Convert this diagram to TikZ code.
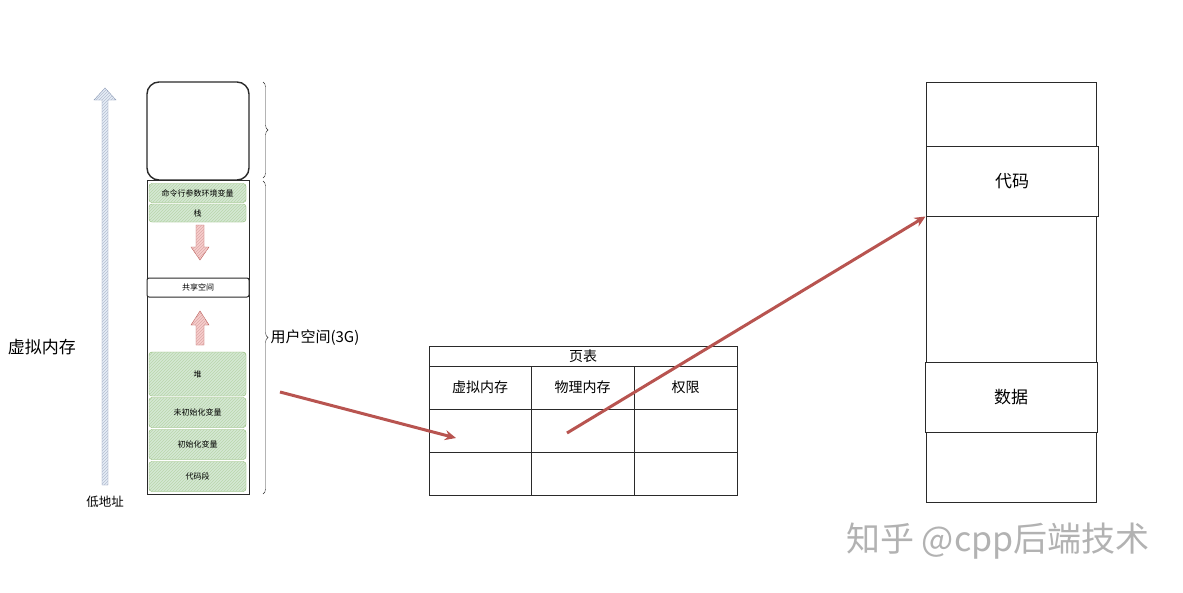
\documentclass[tikz,border=0pt]{standalone}
\usepackage{fontspec}
\setmainfont{Noto Sans CJK SC}
\usetikzlibrary{arrows.meta,patterns,decorations.pathreplacing}

\definecolor{segfill}{HTML}{D5E8D4}
\definecolor{segline}{HTML}{82B366}
\definecolor{growfill}{HTML}{F8CECC}
\definecolor{growline}{HTML}{B85450}
\definecolor{addrfill}{HTML}{E6EDF7}
\definecolor{addrline}{HTML}{8393B0}
\definecolor{frameline}{HTML}{2A2A2A}

\tikzset{
  seg/.style={draw=segline, fill=segfill, rounded corners=3pt,
    postaction={pattern=north east lines, pattern color=segline!55},
    minimum width=97pt, inner sep=0pt, font=\fontsize{8}{9}\selectfont},
  box/.style={draw=frameline, fill=white, inner sep=0pt, line width=1pt},
  cell/.style={draw=frameline, inner sep=0pt, minimum width=103pt, minimum height=43pt,
    line width=0.9pt, font=\fontsize{14}{16}\selectfont},
  phys/.style={draw=frameline, inner sep=0pt, minimum width=172pt, minimum height=70pt,
    line width=1pt, font=\fontsize{17}{19}\selectfont},
  growarrow/.style={draw=growline, fill=growfill,
    postaction={pattern=north east lines, pattern color=growline!50}},
  addr/.style={draw=addrline, fill=addrfill,
    postaction={pattern=north east lines, pattern color=addrline!60}},
  bracket/.style={draw=frameline, decorate, decoration={brace, amplitude=5pt}},
  map/.style={draw=growline, line width=3pt, -{Stealth[length=11pt, width=10pt]}}
}

\begin{document}
\begin{tikzpicture}[x=1pt, y=-1pt]
  \useasboundingbox (0,0) rectangle (1183,592);

  % address arrow
  \draw[addr] (102,485) -- (102,100) -- (94,100) -- (105,88) -- (116,100)
    -- (108,100) -- (108,485) -- cycle;
  \node[font=\fontsize{17}{19}\selectfont] (vmem) at (42,347) {虚拟内存};
  \node[font=\fontsize{12.5}{14}\selectfont] (low) at (105,502) {低地址};

  % virtual memory column
  \node[box, line width=1.4pt, rounded corners=12pt, minimum width=102pt, minimum height=98pt] (kernel) at (198,131) {};
  \node[box, minimum width=102pt, minimum height=314pt] (user) at (198,337) {};
  \node[seg, minimum height=19pt] (args) at (197.5,193) {命令行参数环境变量};
  \node[seg, minimum height=18pt] (stack) at (197.5,213) {栈};
  \node[box, rounded corners=2pt, minimum width=102pt, minimum height=19pt,
    font=\fontsize{8}{9}\selectfont] (shared) at (198,287.5) {共享空间};
  \node[seg, minimum height=44pt] (heap) at (197.5,374) {堆};
  \node[seg, minimum height=30pt] (bss) at (197.5,412.5) {未初始化变量};
  \node[seg, minimum height=30pt] (data) at (197.5,444.5) {初始化变量};
  \node[seg, minimum height=30pt] (text) at (197.5,476.5) {代码段};

  % growth arrows
  \draw[growarrow] (196,225) -- (196,247) -- (191,247) -- (200,260) -- (209,247)
    -- (204,247) -- (204,225) -- cycle;
  \draw[growarrow] (196,345) -- (196,325) -- (191,325) -- (200,311) -- (209,325)
    -- (204,325) -- (204,345) -- cycle;

  % braces
  \coordinate (kt) at (263,82);
  \coordinate (kb) at (263,178);
  \coordinate (ut) at (263,181);
  \coordinate (ub) at (263,494);
  \draw[bracket] (kt) -- (kb);
  \draw[bracket] (ut) -- (ub) node[midway, right=4pt, font=\fontsize{15}{17}\selectfont] (ulabel) {用户空间(3G)};

  % page table
  \node[cell, minimum width=308pt, minimum height=20pt] (ptitle) at (583,356) {页表};
  \node[cell, minimum width=102pt] (hv) at (480,387.5) {虚拟内存};
  \node[cell] (hp) at (582.5,387.5) {物理内存};
  \node[cell] (hr) at (685.5,387.5) {权限};
  \node[cell, minimum width=102pt] (v1) at (480,430.5) {};
  \node[cell] (p1) at (582.5,430.5) {};
  \node[cell] (r1) at (685.5,430.5) {};
  \node[cell, minimum width=102pt] (v2) at (480,474) {};
  \node[cell] (p2) at (582.5,474) {};
  \node[cell] (r2) at (685.5,474) {};

  % physical memory
  \node[draw=frameline, line width=1pt, minimum width=170pt, minimum height=420pt, inner sep=0pt] (pmem) at (1011,292) {};
  \node[phys, fill=white] (code) at (1012,181) {代码};
  \node[phys, fill=white] (pdata) at (1011,397) {数据};

  % mappings
  \coordinate (m1s) at (280,392);
  \coordinate (m1e) at (456,438);
  \coordinate (m2s) at (567,433);
  \draw[map] (m1s) -- (m1e);
  \draw[map] (m2s) -- (code.south west);

  % watermark
  \node[text=gray!60, font=\fontsize{34}{36}\selectfont] (mark) at (998,541) {知乎 @cpp后端技术};
\end{tikzpicture}
\end{document}
